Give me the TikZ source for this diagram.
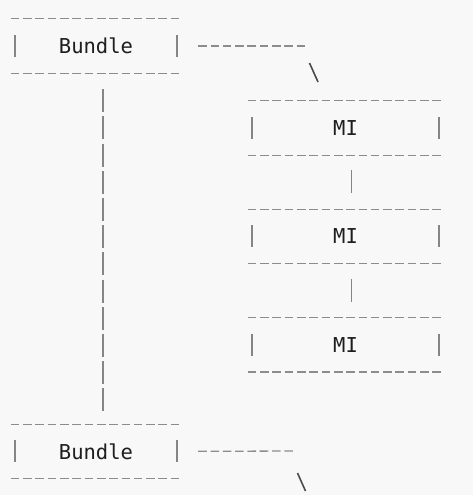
\documentclass[tikz,border=0pt]{standalone}
\usepackage{fontspec}
\newfontfamily\asciifont{DejaVu Sans Mono}
\usetikzlibrary{calc,positioning}
\definecolor{bgc}{HTML}{F8F8F8}
\definecolor{ink}{HTML}{1E1E1E}
\definecolor{dashc}{HTML}{8C8C8C}
\definecolor{barc}{HTML}{858585}
\definecolor{slashc}{HTML}{4A4A4A}

\begin{document}
\begin{tikzpicture}[x=1pt,y=-1pt,
	asciibox/.style = {inner sep=0pt, minimum height=54pt, text=ink,
		font=\asciifont\fontsize{20.5}{24}\selectfont},
	bundlebox/.style = {asciibox, minimum width=170pt},
	mibox/.style = {asciibox, minimum width=195pt},
	dashrule/.style = {draw=dashc, line width=1.3pt, dash pattern=on 8.6pt off 3.7pt},
	sidebar/.style = {draw=barc, line width=1.5pt},
	pipeline/.style = {sidebar, dash pattern=on 23pt off 4.2pt},
	slashmark/.style = {draw=slashc, line width=1.6pt}]
		\fill[bgc] (0,0) rectangle (473,495);
		\useasboundingbox (0,0) rectangle (473,495);
		% boxes
		\node[bundlebox] (b1) at (96,46) {Bundle};
		\node[bundlebox] (b2) [below=351pt of b1] {Bundle};
		\node[mibox] (m1) at (345.5,128) {MI};
		\node[mibox] (m2) [below=54pt of m1] {MI};
		\node[mibox] (m3) [below=54pt of m2] {MI};
		\foreach \n in {b1,b2,m1,m2,m3} {
			\draw[dashrule] (\n.north west) -- (\n.north east);
			\draw[dashrule] (\n.south west) -- (\n.south east);
			\draw[sidebar] ([xshift=4pt]\n.west) ++(0,-11) -- ++(0,22);
			\draw[sidebar] ([xshift=-4pt]\n.east) ++(0,-11) -- ++(0,22);
		}
		% free ends of the side links
		\coordinate (t1) at (305,46);
		\coordinate (k1) at (309.5,63);
		\coordinate (e1) at (318,82);
		\coordinate (t2) at (293,451);
		\coordinate (k2) at (297.5,473);
		\coordinate (e2) at (305.5,491);
		% links
		\draw[pipeline, shorten <=16pt, shorten >=13pt] ([xshift=7pt]b1.south) -- ([xshift=7pt]b2.north);
		\draw[pipeline, shorten <=15pt, shorten >=15pt] ([xshift=6pt]m1.south) -- ([xshift=6pt]m2.north);
		\draw[pipeline, shorten <=15pt, shorten >=15pt] ([xshift=6pt]m2.south) -- ([xshift=6pt]m3.north);
		\draw[dashrule, shorten <=17pt] (b1.east) -- (t1);
		\draw[slashmark] (k1) -- (e1);
		\draw[dashrule, shorten <=17pt] (b2.east) -- (t2);
		\draw[slashmark] (k2) -- (e2);
	\end{tikzpicture}
\end{document}
